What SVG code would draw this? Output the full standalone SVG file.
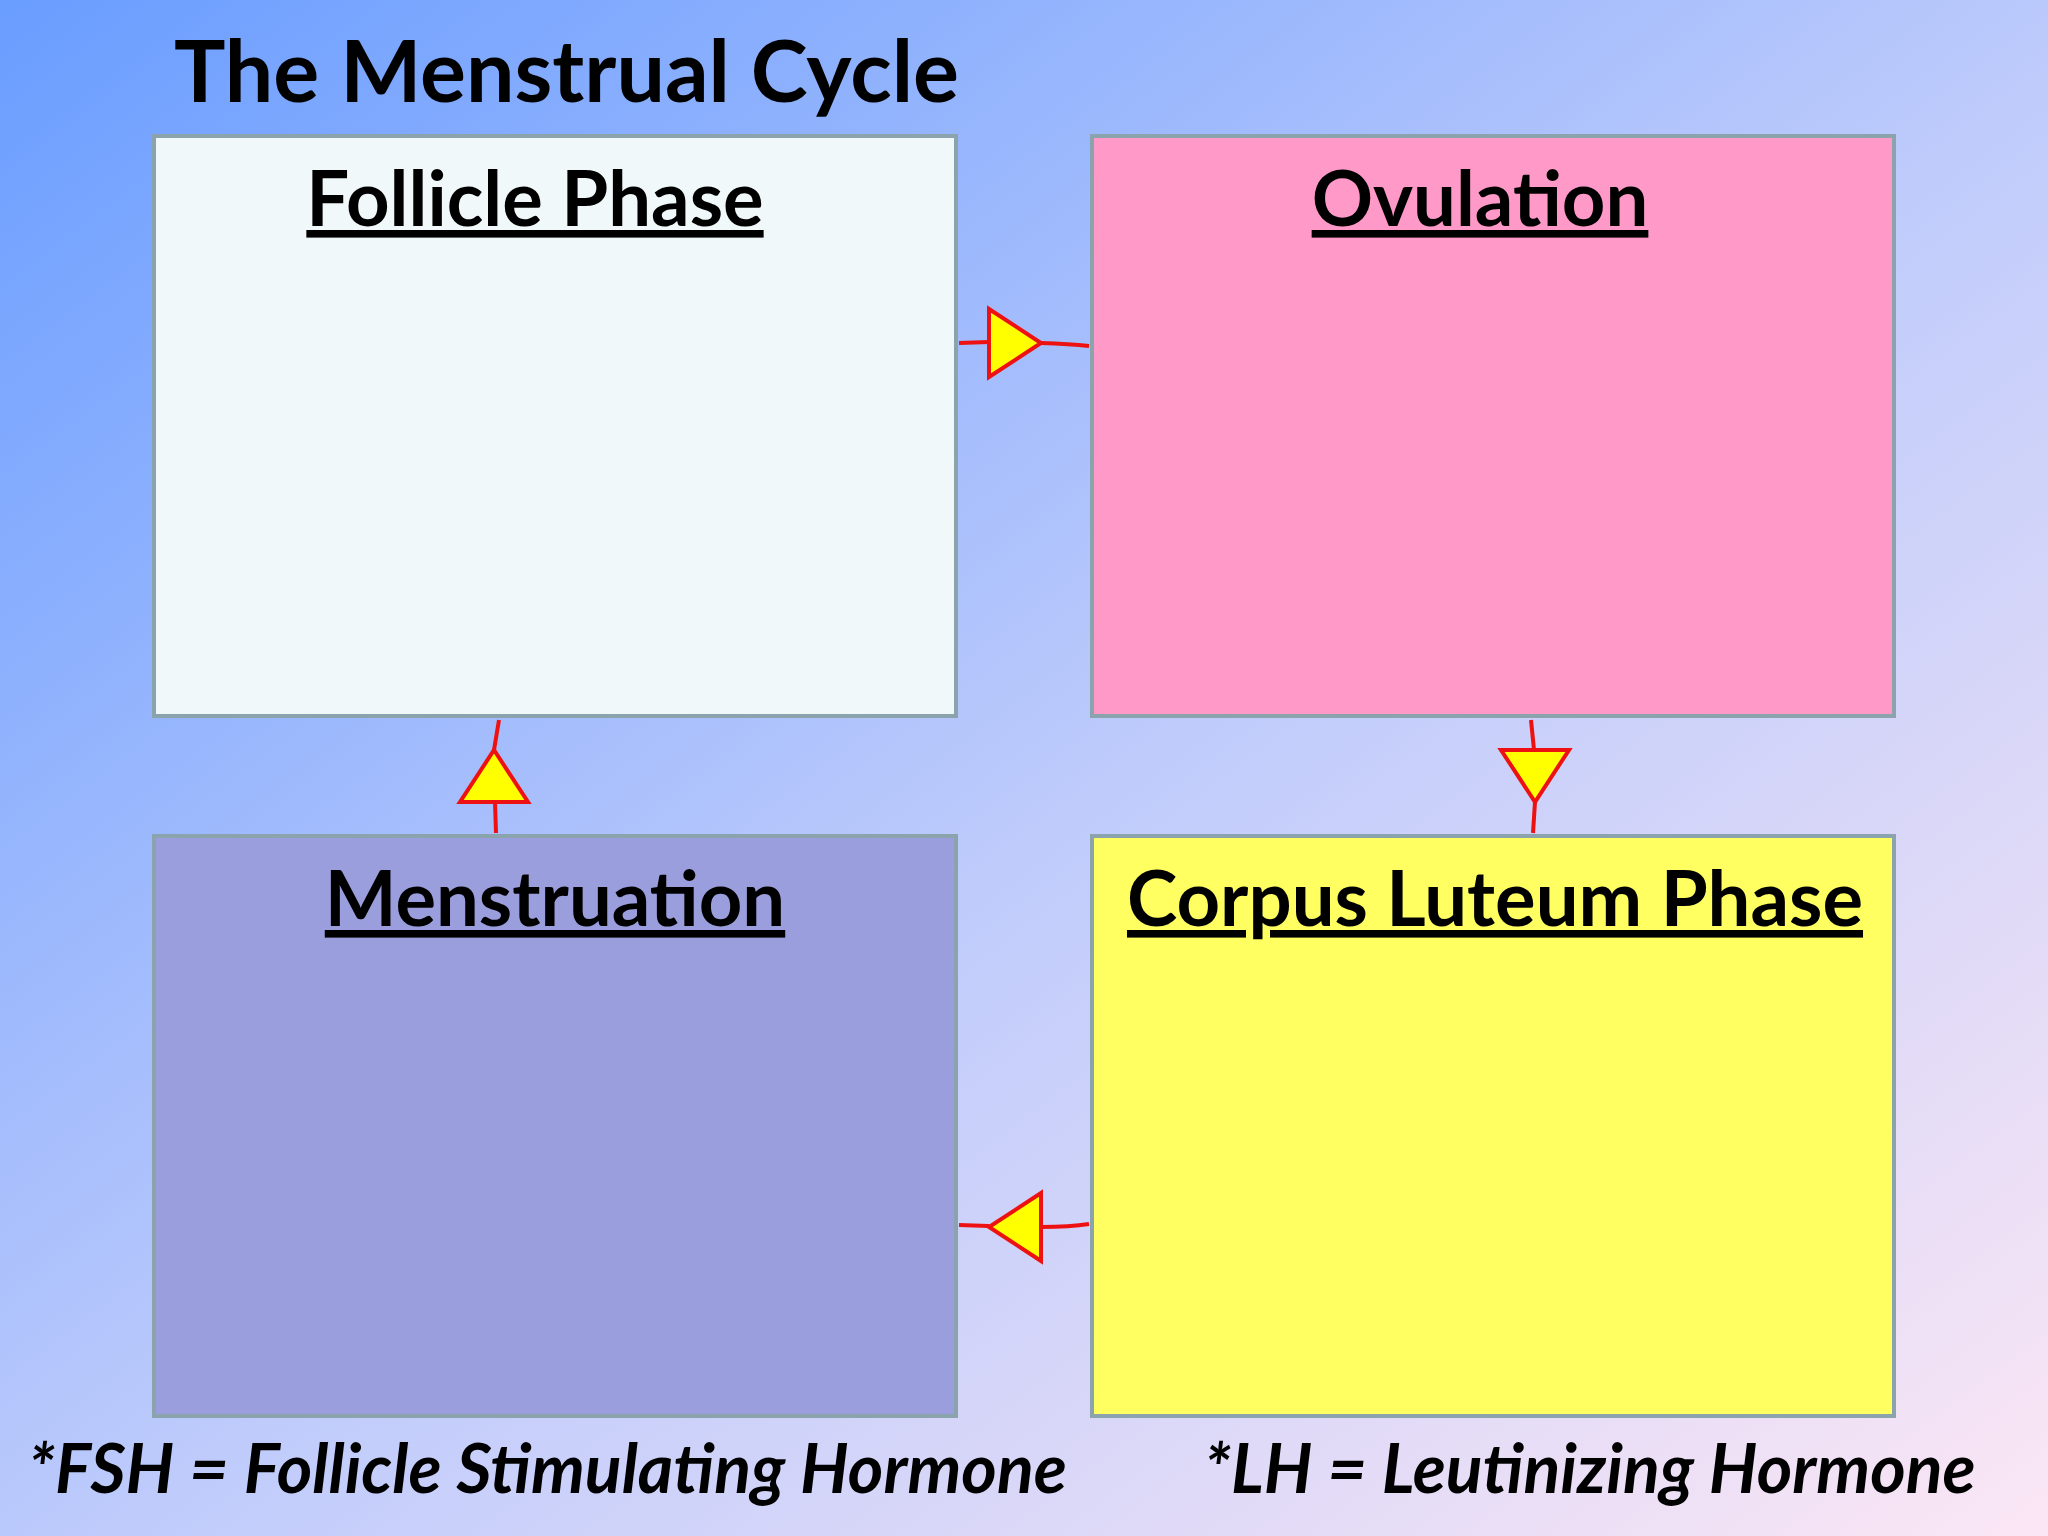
<svg xmlns="http://www.w3.org/2000/svg" width="2048" height="1536" viewBox="0 0 2048 1536">
<defs>
<linearGradient id="bg" x1="0" y1="0" x2="1" y2="1">
<stop offset="0" stop-color="#699dff"/>
<stop offset="0.55" stop-color="#c2cdfb"/>
<stop offset="1" stop-color="#fbe6f4"/>
</linearGradient>
</defs>
<style>
.box{stroke:#8ba3ad;stroke-width:4}
.h{font-family:Lato,"Liberation Sans",sans-serif;font-weight:bold;font-size:76px;text-anchor:middle;text-decoration:underline;fill:#000}
.foot{font-family:Lato,"Liberation Sans",sans-serif;font-weight:bold;font-style:italic;font-size:68px;fill:#000}
.ln{stroke:#ee1111;stroke-width:4;fill:none}
.tri{fill:#ffff00;stroke:#ee1111;stroke-width:4;stroke-linejoin:miter}
</style>
<rect width="2048" height="1536" fill="url(#bg)"/>
<text x="174" y="102" font-family="Lato,'Liberation Sans',sans-serif" font-weight="bold" font-size="86" fill="#000">The Menstrual Cycle</text>
<g id="follicle"><rect class="box" x="154" y="136" width="802" height="580" fill="#f0f8fa"/><text class="h" x="535" y="226">Follicle Phase</text></g>
<g id="ovulation"><rect class="box" x="1092" y="136" width="802" height="580" fill="#ff99c8"/><text class="h" x="1480" y="226">Ovulation</text></g>
<g id="menstruation"><rect class="box" x="154" y="836" width="802" height="580" fill="#9b9edd"/><text class="h" x="555" y="926">Menstruation</text></g>
<g id="corpus"><rect class="box" x="1092" y="836" width="802" height="580" fill="#ffff62"/><text class="h" x="1495" y="926">Corpus Luteum Phase</text></g>
<g id="connectors">
<path class="ln" d="M959 343 L989 342 M1041 343 Q1070 344 1089 346"/>
<polygon class="tri" points="989,309 1041,343 989,377"/>
<path class="ln" d="M1531 720 L1534 750 M1535 802 L1533 833"/>
<polygon class="tri" points="1501,750 1569,750 1535,802"/>
<path class="ln" d="M1089 1224 Q1070 1227 1041 1227 M989 1226 L959 1225"/>
<polygon class="tri" points="1041,1193 1041,1261 989,1227"/>
<path class="ln" d="M496 833 L495 802 M494 750 L499 720"/>
<polygon class="tri" points="460,802 528,802 494,750"/>
</g>
<text class="foot" x="28" y="1493">*FSH = Follicle Stimulating Hormone</text>
<text class="foot" x="1204" y="1493">*LH = Leutinizing Hormone</text>
</svg>
